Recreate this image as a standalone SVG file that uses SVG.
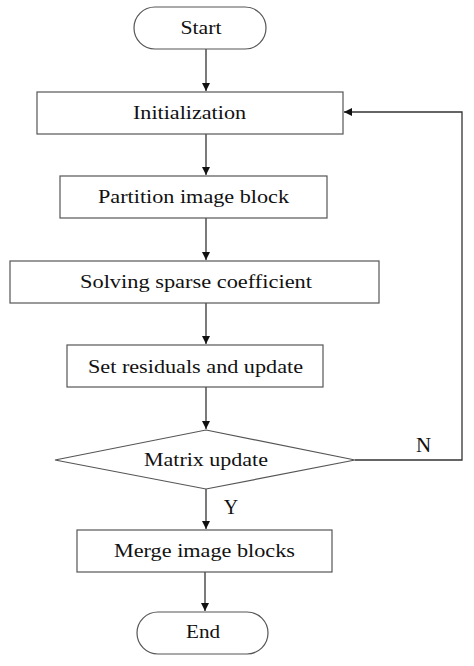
<svg xmlns="http://www.w3.org/2000/svg" width="474" height="666" viewBox="0 0 474 666">
<defs>
<marker id="ah" markerWidth="10" markerHeight="10" refX="9" refY="5" orient="auto" markerUnits="userSpaceOnUse">
<path d="M1,1 L9,5 L1,9 Z" fill="#111"/>
</marker>
<style>
.box{fill:#fff;stroke:#555;stroke-width:1.2}
.lbl{font-family:"Liberation Serif","Times New Roman",serif;font-size:19px;fill:#111;text-anchor:middle}
.con{fill:none;stroke:#333;stroke-width:1.3}
</style>
</defs>
<rect width="474" height="666" fill="#fff"/>
<g id="connectors">
<line class="con" x1="206" y1="49" x2="206" y2="91" marker-end="url(#ah)"/>
<line class="con" x1="206" y1="134" x2="206" y2="175" marker-end="url(#ah)"/>
<line class="con" x1="206" y1="218" x2="206" y2="260" marker-end="url(#ah)"/>
<line class="con" x1="206" y1="303" x2="206" y2="344" marker-end="url(#ah)"/>
<line class="con" x1="206" y1="387" x2="206" y2="429" marker-end="url(#ah)"/>
<line class="con" x1="206" y1="489" x2="206" y2="529" marker-end="url(#ah)"/>
<line class="con" x1="205" y1="572" x2="205" y2="611" marker-end="url(#ah)"/>
<polyline class="con" points="355,460 462,460 462,112 344,112" marker-end="url(#ah)"/>
<text class="lbl" x="423.5" y="452" style="font-size:21px">N</text>
<text class="lbl" x="231" y="514" style="font-size:20px">Y</text>
</g>
<g id="start">
<rect class="box" x="134" y="7" width="132" height="42" rx="21" ry="21"/>
<text class="lbl" x="201" y="34" textLength="41" lengthAdjust="spacingAndGlyphs">Start</text>
</g>
<g id="init">
<rect class="box" x="37" y="92" width="306" height="42"/>
<text class="lbl" x="189.5" y="119" textLength="113" lengthAdjust="spacingAndGlyphs">Initialization</text>
</g>
<g id="partition">
<rect class="box" x="60" y="176" width="267" height="42"/>
<text class="lbl" x="193.5" y="203" textLength="191" lengthAdjust="spacingAndGlyphs">Partition image block</text>
</g>
<g id="solving">
<rect class="box" x="10" y="261" width="369" height="42"/>
<text class="lbl" x="196" y="288" textLength="232" lengthAdjust="spacingAndGlyphs">Solving sparse coefficient</text>
</g>
<g id="residuals">
<rect class="box" x="67" y="345" width="256" height="42"/>
<text class="lbl" x="195.5" y="373" textLength="215" lengthAdjust="spacingAndGlyphs">Set residuals and update</text>
</g>
<g id="matrix">
<polygon class="box" points="206,430 355,460 206,489 55,460"/>
<text class="lbl" x="206" y="466" textLength="124" lengthAdjust="spacingAndGlyphs">Matrix update</text>
</g>
<g id="merge">
<rect class="box" x="77" y="530" width="255" height="42"/>
<text class="lbl" x="204.5" y="557" textLength="181" lengthAdjust="spacingAndGlyphs">Merge image blocks</text>
</g>
<g id="end">
<rect class="box" x="137" y="612" width="131" height="42" rx="21" ry="21"/>
<text class="lbl" x="203" y="638" textLength="34" lengthAdjust="spacingAndGlyphs">End</text>
</g>
</svg>
